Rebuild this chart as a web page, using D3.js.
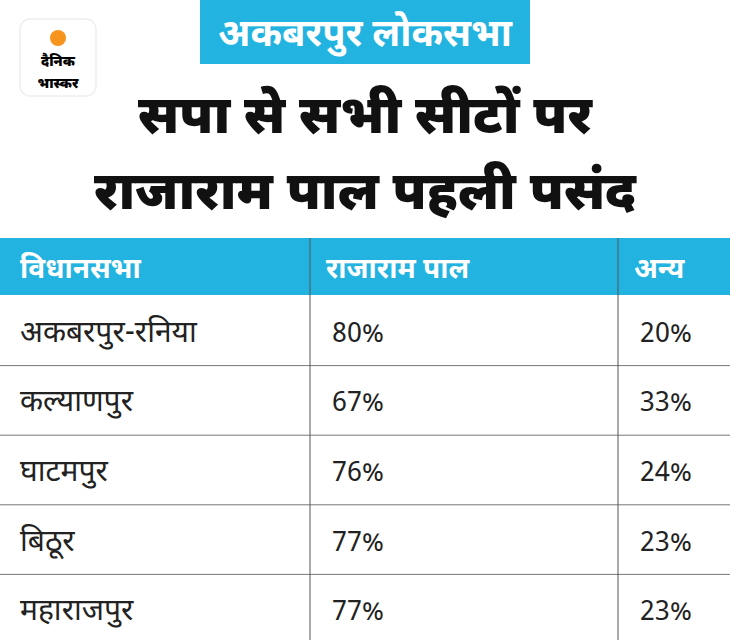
<!DOCTYPE html>
<html><head><meta charset="utf-8">
<script src="https://cdn.jsdelivr.net/npm/d3@7"></script>
<style>body{margin:0;background:#fff}text{font-family:"Noto Sans Devanagari","Noto Sans","Lohit Devanagari","DejaVu Sans",sans-serif}</style>
</head><body><svg id="c"></svg>
<script>
let headers = ["विधानसभा", "राजाराम पाल", "अन्य"];
let seats = ["अकबरपुर-रनिया", "कल्याणपुर", "घाटमपुर", "बिठूर", "महाराजपुर"];
let rajaram = [80, 67, 76, 77, 77];
let others = [20, 33, 24, 23, 23];

let width = 730, height = 640;
let svg = d3.select("#c").attr("width", width).attr("height", height);

// logo
let logo = svg.append("g");
logo.append("rect").attr("x", 20).attr("y", 19).attr("width", 76).attr("height", 77).attr("rx", 10)
    .style("fill", "#fff").style("stroke", "#eee").style("stroke-width", 1.5);
logo.append("circle").attr("cx", 58).attr("cy", 38).attr("r", 8).style("fill", "#f7941d");
logo.append("text").attr("x", 58).attr("y", 66).attr("text-anchor", "middle")
    .style("font-size", "14px").style("font-weight", "900").text("दैनिक");
logo.append("text").attr("x", 58).attr("y", 88).attr("text-anchor", "middle")
    .style("font-size", "14px").style("font-weight", "900").text("भास्कर");

// banner + title
svg.append("rect").attr("x", 200).attr("y", 0).attr("width", 330).attr("height", 64).style("fill", "#22b3e0");
svg.append("text").attr("x", 365).attr("y", 46).attr("text-anchor", "middle")
    .style("fill", "#fff").style("font-size", "38px").style("font-weight", "bold").text("अकबरपुर लोकसभा");
["सपा से सभी सीटों पर", "राजाराम पाल पहली पसंद"].forEach((t, i) => {
    svg.append("text").attr("x", 365).attr("y", 133 + i * 76).attr("text-anchor", "middle")
        .style("font-size", "53px").style("font-weight", "900").style("fill", "#111").text(t);
});

// table
let colX = [0, 310, 618, width];
let y = d3.scaleBand().domain(d3.range(seats.length)).range([296, 644]);
svg.append("rect").attr("x", 0).attr("y", 238).attr("width", width).attr("height", 57).style("fill", "#22b3e0");
headers.forEach((h, i) => {
    svg.append("text").attr("x", colX[i] + (i ? 16 : 20)).attr("y", 278)
        .style("fill", "#fff").style("font-size", "28px").style("font-weight", "bold").text(h);
});
let rows = svg.selectAll(".row").data(seats).enter().append("g").attr("class", "row");
rows.append("line").attr("x1", 0).attr("x2", width)
    .attr("y1", (d, i) => y(i) + y.bandwidth()).attr("y2", (d, i) => y(i) + y.bandwidth())
    .style("stroke", "#777").style("stroke-width", 1);
let cells = (i, d) => [seats[i], rajaram[i] + "%", others[i] + "%"];
rows.each(function (d, i) {
    d3.select(this).selectAll("text").data(cells(i)).enter().append("text")
        .attr("x", (c, j) => colX[j] + (j ? 22 : 20))
        .attr("y", y(i) + y.bandwidth() / 2 + 11)
        .style("font-size", (c, j) => j ? "27px" : "30px").style("fill", "#222").text(c => c);
});
[1, 2].forEach(j => {
    svg.append("line").attr("x1", colX[j]).attr("x2", colX[j]).attr("y1", 238).attr("y2", height)
        .style("stroke", "#555").style("stroke-width", 1);
});
</script></body></html>
